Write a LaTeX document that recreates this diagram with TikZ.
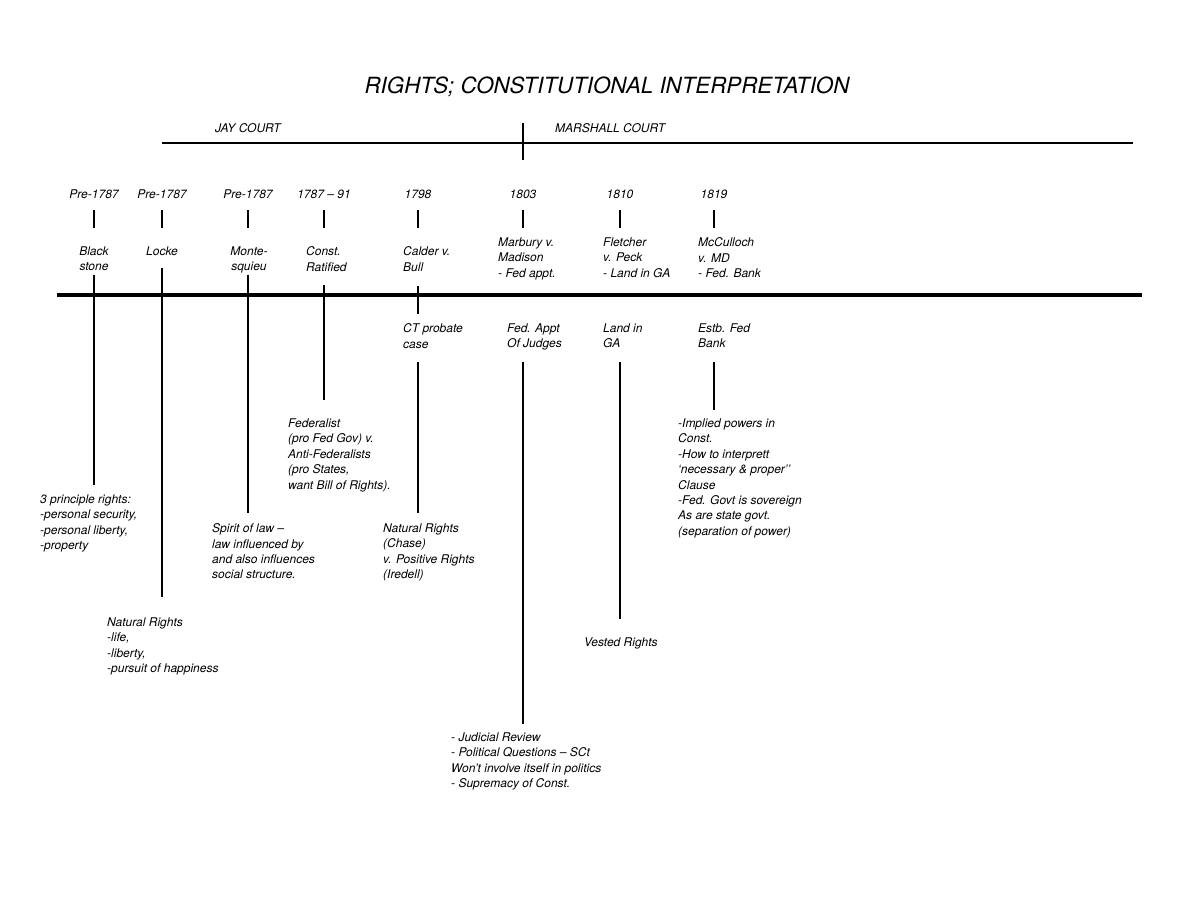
\documentclass[tikz,border=0pt]{standalone}
\usepackage{fontspec}
\setmainfont{TeX Gyre Heros}
\usetikzlibrary{arrows}

\begin{document}
\begin{tikzpicture}[x=1pt,y=-1pt,
  yr/.style={inner sep=0pt, font=\fontsize{12}{15.4}\selectfont\itshape},
  txt/.style={yr, align=left, anchor=north west},
  ctr/.style={yr, align=center, anchor=north},
  stem/.style={line width=1.6pt},
  tick/.style={line width=1.6pt, shorten <=11.5pt, shorten >=18.5pt}]
  \useasboundingbox (0,0) rectangle (1200,914);
  \node[yr, font=\fontsize{22.3}{26}\selectfont\itshape] (title) at (607,87) {RIGHTS; CONSTITUTIONAL INTERPRETATION};
  % courts
  \draw[line width=1.5pt] (162,143) -- (1133,143);
  \draw[line width=1.5pt] (523,123) -- (523,160);
  \node[yr] (jay) at (248,128) {JAY COURT};
  \node[yr, anchor=west] (marshall) at (555,128) {MARSHALL COURT};
  % main time line
  \draw[line width=4.5pt] (57,295) -- (1142,295);
  % years
  \node[yr] (y1) at (94,194) {Pre-1787};
  \node[yr] (y2) at (162,194) {Pre-1787};
  \node[yr] (y3) at (248,194) {Pre-1787};
  \node[yr] (y4) at (324,194) {1787 – 91};
  \node[yr] (y5) at (418,194) {1798};
  \node[yr] (y6) at (523,194) {1803};
  \node[yr] (y7) at (620,194) {1810};
  \node[yr] (y8) at (714,194) {1819};
  % names
  \node[ctr] (blackstone) at (94,246.5) {Black\\stone};
  \node[ctr] (locke) at (162,246.5) {Locke};
  \node[ctr] (monte) at (249,246.5) {Monte-\\squieu};
  \node[txt] (const) at (306,246.5) {Const.\\Ratified};
  \node[txt] (calder) at (403,246.5) {Calder v.\\Bull};
  \node[txt] (marbury) at (498,237.5) {Marbury v.\\Madison\\- Fed appt.};
  \node[txt] (fletcher) at (603,237.5) {Fletcher\\v. Peck\\- Land in GA};
  \node[txt] (mcculloch) at (698,237.5) {McCulloch\\v. MD\\- Fed. Bank};
  \draw[tick] (y1.south) -- (y1.south |- blackstone.north);
  \draw[tick] (y2.south) -- (y2.south |- locke.north);
  \draw[tick] (y3.south) -- (y3.south |- monte.north);
  \draw[tick] (y4.south) -- (y4.south |- const.north);
  \draw[tick] (y5.south) -- (y5.south |- calder.north);
  \draw[tick, shorten >=9.5pt] (y6.south) -- (y6.south |- marbury.north);
  \draw[tick, shorten >=9.5pt] (y7.south) -- (y7.south |- fletcher.north);
  \draw[tick, shorten >=9.5pt] (y8.south) -- (y8.south |- mcculloch.north);
  % below the line
  \node[txt] (ctprobate) at (403,323.5) {CT probate\\case};
  \node[txt] (fedappt) at (507,323.5) {Fed. Appt\\Of Judges};
  \node[txt] (landga) at (603,323.5) {Land in\\GA};
  \node[txt] (estb) at (698,323.5) {Estb. Fed\\Bank};
  \node[txt] (principle) at (40,494.5) {3 principle rights:\\-personal security,\\-personal liberty,\\-property};
  \node[txt] (natlife) at (107,617.5) {Natural Rights\\-life,\\-liberty,\\-pursuit of happiness};
  \node[txt] (spirit) at (212,523.5) {Spirit of law –\\law influenced by\\and also influences\\social structure.};
  \node[txt] (federalist) at (288,418.5) {Federalist\\(pro Fed Gov) v.\\Anti-Federalists\\(pro States,\\want Bill of Rights).};
  \node[txt] (natural) at (383,523.5) {Natural Rights\\(Chase)\\v. Positive Rights\\(Iredell)};
  \node[txt] (judicial) at (451,732.5) {- Judicial Review\\- Political Questions – SCt\\Won’t involve itself in politics\\- Supremacy of Const.};
  \node[txt] (vested) at (584,637.5) {Vested Rights};
  \node[txt] (implied) at (678,418.5) {-Implied powers in\\Const.\\-How to interprett\\‘necessary \& proper’’\\Clause\\-Fed. Govt is sovereign\\As are state govt.\\(separation of power)};
  % stems
  \draw[stem, shorten <=3.5pt, shorten >=9.5pt] (y1 |- blackstone.south) -- (y1 |- principle.north);
  \draw[stem, shorten <=12.5pt, shorten >=20.5pt] (y2 |- locke.south) -- (y2 |- natlife.north);
  \draw[stem, shorten <=1pt, shorten >=10.5pt] (y3 |- monte.south) -- (y3 |- spirit.north);
  \draw[stem, shorten <=13.5pt, shorten >=18.5pt] (y4 |- const.south) -- (y4 |- federalist.north);
  \draw[stem, shorten <=14.5pt, shorten >=9.5pt] (y5 |- calder.south) -- (y5 |- ctprobate.north);
  \draw[stem, shorten <=13.5pt, shorten >=10.5pt] (y5 |- ctprobate.south) -- (y5 |- natural.north);
  \draw[stem, shorten <=11pt, shorten >=8.5pt] (y6 |- fedappt.south) -- (y6 |- judicial.north);
  \draw[stem, shorten <=13.5pt, shorten >=18.5pt] (y7 |- landga.south) -- (y7 |- vested.north);
  \draw[stem, shorten <=13.5pt, shorten >=8.5pt] (y8 |- estb.south) -- (y8 |- implied.north);
\end{tikzpicture}
\end{document}
